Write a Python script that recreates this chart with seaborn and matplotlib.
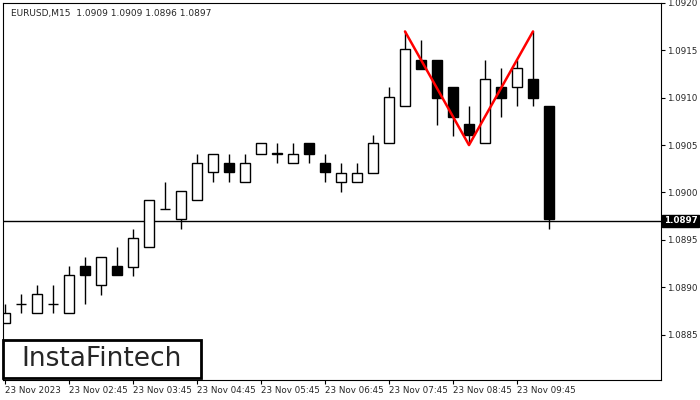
import pandas as pd
import matplotlib
matplotlib.use('Agg')
import matplotlib.pyplot as plt
import seaborn as sns
from matplotlib.patches import Rectangle

# OHLC EURUSD M15, 23 Nov 2023, с 01:45
opens = [1.08862, 1.08882, 1.08873, 1.08882, 1.08873, 1.08922, 1.08902, 1.08922, 1.08921, 1.08942,
         1.08982, 1.08972, 1.08992, 1.09022, 1.09031, 1.09011, 1.09041, 1.09041, 1.09031, 1.09052,
         1.09031, 1.09011, 1.09011, 1.09021, 1.09052, 1.09091, 1.09140, 1.09140, 1.09111, 1.09072,
         1.09052, 1.09111, 1.09111, 1.09120, 1.09091]
highs = [1.08882, 1.08893, 1.08902, 1.08902, 1.08922, 1.08932, 1.08932, 1.08942, 1.08961, 1.08992,
         1.09011, 1.09002, 1.09041, 1.09041, 1.09041, 1.09041, 1.09052, 1.09052, 1.09052, 1.09052,
         1.09041, 1.09031, 1.09031, 1.09061, 1.09111, 1.09170, 1.09161, 1.09140, 1.09111, 1.09091,
         1.09140, 1.09131, 1.09140, 1.09170, 1.09091]
lows = [1.08862, 1.08873, 1.08873, 1.08873, 1.08873, 1.08882, 1.08892, 1.08913, 1.08912, 1.08942,
        1.08982, 1.08961, 1.08992, 1.09011, 1.09011, 1.09011, 1.09041, 1.09031, 1.09031, 1.09031,
        1.09011, 1.09001, 1.09011, 1.09021, 1.09052, 1.09091, 1.09130, 1.09071, 1.09060, 1.09053,
        1.09052, 1.09080, 1.09091, 1.09091, 1.08961]
closes = [1.08873, 1.08882, 1.08893, 1.08882, 1.08913, 1.08913, 1.08932, 1.08913, 1.08952, 1.08992,
          1.08982, 1.09002, 1.09031, 1.09041, 1.09022, 1.09031, 1.09052, 1.09041, 1.09041, 1.09041,
          1.09022, 1.09021, 1.09021, 1.09052, 1.09101, 1.09151, 1.09130, 1.09100, 1.09080, 1.09061,
          1.09120, 1.09100, 1.09131, 1.09100, 1.08972]

# Двойная вершина: индексы свечей и цены
pattern_idx = [25, 29, 33]
pattern_price = [1.09170, 1.09050, 1.09170]

last_price = 1.0897
y_ticks = [1.0885, 1.0890, 1.0895, 1.0900, 1.0905, 1.0910, 1.0915, 1.0920]
x_tick_idx = [0, 4, 8, 12, 16, 20, 24, 28, 32]
x_tick_labels = ['23 Nov 2023', '23 Nov 02:45', '23 Nov 03:45', '23 Nov 04:45', '23 Nov 05:45',
                 '23 Nov 06:45', '23 Nov 07:45', '23 Nov 08:45', '23 Nov 09:45']

df = pd.DataFrame({'o': opens, 'h': highs, 'l': lows, 'c': closes})
df['i'] = range(len(df))
df['bottom'] = df[['o', 'c']].min(axis=1)
df['height'] = (df['c'] - df['o']).abs().clip(lower=0.000003)
df['up'] = df['c'] >= df['o']

sns.set_style('white')
plt.rcParams['font.family'] = ['DejaVu Sans']

fig = plt.figure(figsize=(7, 4), dpi=100)
ax = fig.add_axes([3 / 700, 20 / 400, 658 / 700, 377 / 400])

ax.vlines(df['i'], df['l'], df['h'], color='black', lw=1, zorder=1)
ax.bar(df['i'], df['height'], bottom=df['bottom'], width=0.6,
       color=['white' if u else 'black' for u in df['up']], edgecolor='black', lw=1, zorder=2)

sns.lineplot(x=pattern_idx, y=pattern_price, ax=ax, color='red', lw=1.8, zorder=3)

ax.axhline(last_price, color='black', lw=1, zorder=0)

ax.set_xlim(-0.125, 41.0)
ax.set_ylim(1.08802, 1.09200)
ax.yaxis.tick_right()
ax.set_yticks(y_ticks)
ax.set_yticklabels([f'{v:.4f}' for v in y_ticks], fontsize=6.3)
ax.set_xticks(x_tick_idx)
ax.set_xticklabels(x_tick_labels, fontsize=6.3, ha='left')
ax.tick_params(axis='both', length=3, width=0.8, color='black', pad=1.5, direction='out', right=True, bottom=True)
for s in ax.spines.values():
    s.set_color('black')
    s.set_linewidth(0.8)

ax.text(0.012, 0.985, 'EURUSD,M15  1.0909 1.0909 1.0896 1.0897', transform=ax.transAxes,
        fontsize=6.5, va='top', ha='left')
ax.text(1.004, last_price, '1.0897', transform=ax.get_yaxis_transform(), fontsize=6.3,
        color='white', va='center', ha='left', fontweight='bold',
        bbox=dict(boxstyle='square,pad=0.15', fc='black', ec='black'))

# Логотип
fig.patches.append(Rectangle((3 / 700, 22 / 400), 198 / 700, 38 / 400, transform=fig.transFigure,
                             fc='white', ec='black', lw=2, zorder=5))
fig.text(102 / 700, 41 / 400, 'InstaFintech', fontsize=19, va='center', ha='center', zorder=6)

plt.savefig('out.png', dpi=100)
